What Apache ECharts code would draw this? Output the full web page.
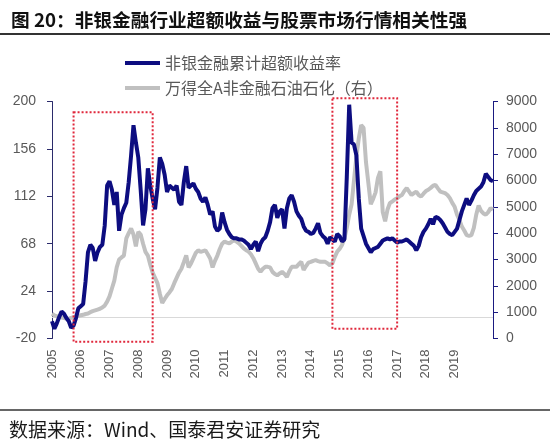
<!DOCTYPE html>
<html>
<head>
<meta charset="utf-8">
<script src="https://cdn.jsdelivr.net/npm/echarts@6/dist/echarts.min.js"></script>
<style>
html,body{margin:0;padding:0;background:#fff;}
#c{width:550px;height:446px;}
</style>
</head>
<body>
<div id="c"></div>
<script>
// ---- data ----
const yearLabels = ['2005','2006','2007','2008','2009','2010','2011','2012','2013','2014','2015','2016','2017','2018','2019'];
const dataYears = ['2005','2006','2007','2008','2009','2010','2011','2012','2013','2014','2015','2016','2017','2018','2019','2020'];

// 非银金融累计超额收益率 (left axis), monthly 2005-01 .. 2020-05
const excessReturn = [
  -4,-11,-6,0,5,3,-1,-4,-10,-8,-1,8,
  10,12,33,60,67,64,52,60,65,67,85,122,
  126,118,104,116,80,95,101,106,125,150,178,162,
  148,118,85,100,138,122,110,100,120,148,142,132,
  116,122,120,118,122,107,104,125,140,120,122,124,
  119,116,110,107,111,104,95,98,84,80,82,97,
  88,81,77,74,73,73,72,72,71,69,67,63,
  67,70,61,68,72,74,80,88,101,104,92,98,
  100,82,101,110,113,107,98,94,91,84,80,79,
  77,78,82,87,78,75,73,68,74,72,70,77,
  75,70,72,130,197,162,160,150,110,82,75,68,
  64,60,63,64,65,68,71,72,73,72,73,71,
  69,70,70,71,72,70,68,66,62,66,74,79,
  82,86,91,86,93,92,90,87,83,79,77,76,
  79,82,90,98,104,110,104,108,113,117,119,121,
  125,133,130,127,126
];

// 万得全A非金融石油石化 (right axis), monthly 2005-01 .. 2020-05
const indexLevel = [
  940,880,850,820,800,780,760,750,780,810,840,860,
  880,900,930,950,1000,1040,1070,1100,1130,1180,1250,1400,
  1600,1900,2200,2700,3000,3080,3150,3800,4000,4180,3950,3500,
  4050,3950,3600,3290,3150,2800,2500,2300,2100,1700,1350,1500,
  1640,1750,1880,2100,2300,2500,2650,2900,3160,2700,2850,3050,
  3250,3350,3290,3320,3350,3200,3040,2700,2950,3150,3400,3600,
  3680,3640,3610,3680,3740,3680,3610,3520,3420,3350,3300,3200,
  3050,2850,2650,2530,2650,2720,2720,2700,2530,2450,2400,2470,
  2530,2450,2340,2550,2720,2720,2720,2830,2910,2600,2750,2880,
  2910,2950,2975,2940,2910,2910,2910,2850,2780,2860,3100,3300,
  3400,3550,3800,4200,4700,5100,6000,6900,7600,8100,8000,6700,
  5900,5100,5300,5550,6100,6350,4800,4450,4900,5150,5200,5280,
  5330,5400,5450,5600,5710,5580,5450,5520,5580,5450,5390,5500,
  5600,5650,5720,5800,5830,5700,5580,5550,5520,5450,5330,5150,
  5000,4700,4500,4250,4100,3930,3900,3930,4200,4700,5050,4850,
  4750,4700,4800,4950,4900
];

// highlighted periods: [start month, end month, top (left-axis value), bottom (left-axis value)]
const box1 = ['2005-10','2008-07',190,-23];
const box2 = ['2014-10','2017-01',203,-11];

const months = [];
dataYears.forEach(y => { for (let m = 1; m <= 12; m++) months.push(y + '-' + String(m).padStart(2, '0')); });
months.length = excessReturn.length;

const cjk = "'Noto Sans CJK SC', 'Noto Sans', sans-serif";
const num = "'Liberation Sans', 'DejaVu Sans', sans-serif";

const chart = echarts.init(document.getElementById('c'), null, {renderer: 'canvas'});
const option = {
  backgroundColor: '#ffffff',
  animation: false,
  title: [{
    text: '图 20：非银金融行业超额收益与股票市场行情相关性强',
    left: 6, top: 6,
    textStyle: {fontFamily: cjk, fontSize: 18.7, fontWeight: 'bold', color: '#111'}
  }, {
    text: '数据来源：Wind、国泰君安证券研究',
    left: 4, top: 415,
    textStyle: {fontFamily: cjk, fontSize: 19, fontWeight: 'normal', color: '#1a1a1a'}
  }],
  graphic: [
    {id: 'topLine', type: 'line', shape: {x1: 0, y1: 34, x2: 550, y2: 34}, style: {stroke: '#333', lineWidth: 2}},
    {id: 'botLine', type: 'line', shape: {x1: 0, y1: 410, x2: 550, y2: 410}, style: {stroke: '#333', lineWidth: 1.5}}
  ],
  legend: {
    orient: 'vertical',
    left: 120, top: 50,
    itemWidth: 35, itemHeight: 4, itemGap: 9,
    icon: 'rect',
    data: ['非银金融累计超额收益率', '万得全A非金融石油石化（右）'],
    textStyle: {fontFamily: cjk, fontSize: 16, color: '#595959', lineHeight: 16}
  },
  grid: {left: 52, right: 57, top: 101.5, height: 237, containLabel: false},
  xAxis: {
    type: 'category',
    data: months,
    boundaryGap: false,
    axisLine: {show: false},
    axisTick: {show: false},
    splitLine: {show: false},
    axisLabel: {
      rotate: 90,
      margin: 11,
      fontFamily: num, fontSize: 13, color: '#595959',
      interval: (i, v) => v.endsWith('-01') && yearLabels.includes(v.slice(0, 4)),
      formatter: v => v.slice(0, 4)
    }
  },
  yAxis: [{
    type: 'value', min: -20, max: 200, interval: 44,
    axisLine: {show: true, lineStyle: {color: '#2b2b6b', width: 1}},
    axisTick: {show: true, length: 5, lineStyle: {color: '#2b2b6b'}},
    splitLine: {show: false},
    axisLabel: {fontFamily: num, fontSize: 14, color: '#595959', margin: 16}
  }, {
    type: 'value', min: 0, max: 9000, interval: 1000,
    position: 'right',
    axisLine: {show: true, lineStyle: {color: '#1a1a80', width: 1}},
    axisTick: {show: true, length: 5, lineStyle: {color: '#1a1a80'}},
    splitLine: {show: false},
    axisLabel: {fontFamily: num, fontSize: 14, color: '#595959', margin: 13, formatter: v => String(v)}
  }],
  series: [{
    name: '万得全A非金融石油石化（右）',
    type: 'line', yAxisIndex: 1,
    data: indexLevel,
    showSymbol: false, symbol: 'none',
    lineStyle: {color: '#c0c0c0', width: 4},
    itemStyle: {color: '#c0c0c0'},
    z: 2
  }, {
    name: '非银金融累计超额收益率',
    type: 'line', yAxisIndex: 0,
    data: excessReturn,
    showSymbol: false, symbol: 'none',
    lineStyle: {color: '#0d0d80', width: 4},
    itemStyle: {color: '#0d0d80'},
    z: 3,
    markLine: {
      silent: true, symbol: 'none', label: {show: false},
      lineStyle: {color: '#d9d9d9', width: 1, type: 'solid'},
      data: [{yAxis: 0}],
      z: 1
    }
  }]
};
chart.setOption(option);

function boxGraphic(id, b) {
  const x1 = chart.convertToPixel({xAxisIndex: 0}, b[0]);
  const x2 = chart.convertToPixel({xAxisIndex: 0}, b[1]);
  const y1 = chart.convertToPixel({yAxisIndex: 0}, b[2]);
  const y2 = chart.convertToPixel({yAxisIndex: 0}, b[3]);
  return {
    id: id, type: 'rect', z: 10,
    shape: {x: x1, y: y1, width: x2 - x1, height: y2 - y1},
    style: {fill: 'none', stroke: '#e0283c', lineWidth: 2, lineDash: [2, 2]}
  };
}
chart.setOption({graphic: [boxGraphic('box1', box1), boxGraphic('box2', box2)]});
</script>
</body>
</html>
